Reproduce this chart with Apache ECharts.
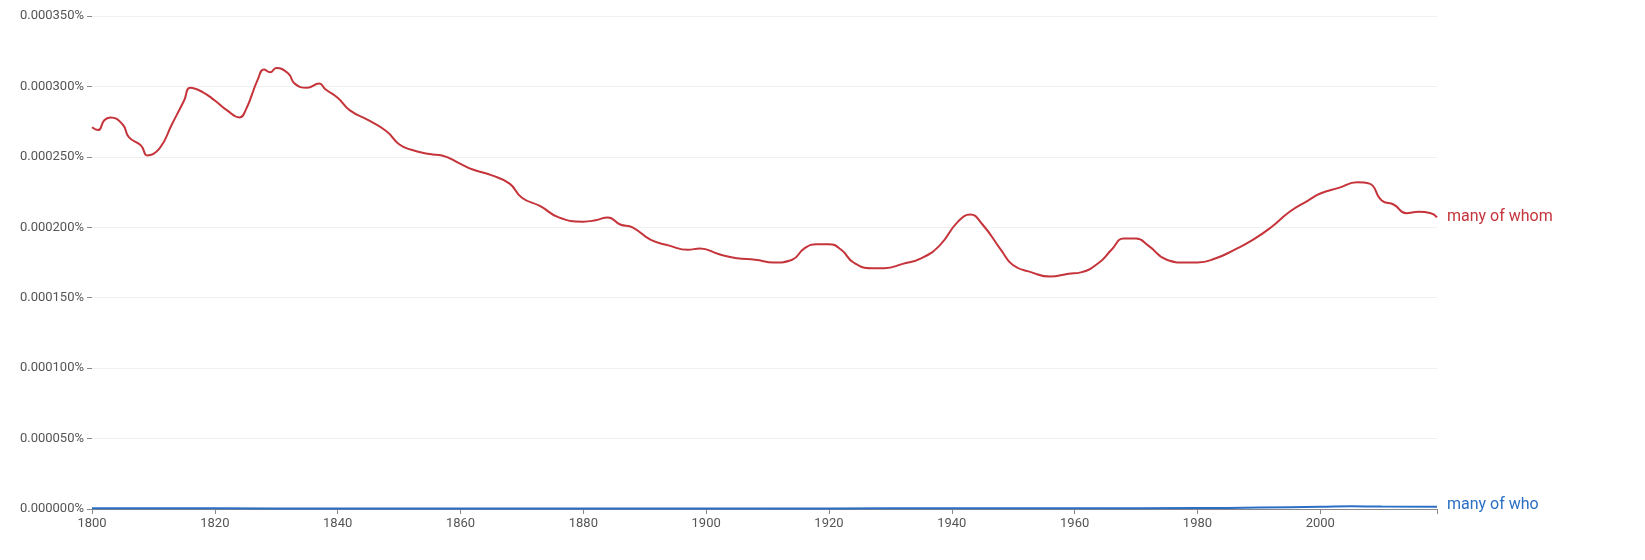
<!DOCTYPE html>
<html><head><meta charset="utf-8">
<script src="https://cdn.jsdelivr.net/npm/echarts@6/dist/echarts.min.js"></script>
<style>html,body{margin:0;background:#fff}#c{width:1645px;height:560px}</style>
</head><body><div id="c"></div>
<script>
const whomYears=[1800,1801,1802,1803,1805,1806,1808,1809,1811,1813,1815,1816,1818,1820,1822,1824,1825,1827,1828,1829,1830,1832,1833,1835,1837,1838,1840,1842,1845,1848,1850,1852,1855,1857,1860,1862,1865,1868,1870,1873,1876,1880,1882,1884,1886,1888,1891,1894,1897,1899,1902,1905,1908,1911,1914,1916,1918,1920,1922,1924,1927,1929,1932,1935,1938,1941,1943,1945,1948,1950,1953,1956,1959,1961,1964,1966,1968,1970,1972,1975,1978,1980,1983,1986,1989,1992,1995,1998,2000,2003,2006,2008,2010,2012,2014,2016,2018,2019];
const whomValues=[0.000271,0.000269,0.000276,0.000278,0.000273,0.000264,0.000258,0.000251,0.000256,0.000273,0.000290,0.000299,0.000296,0.000290,0.000283,0.000278,0.000283,0.000305,0.000312,0.000310,0.000313,0.000309,0.000302,0.000299,0.000302,0.000298,0.000292,0.000283,0.000276,0.000268,0.000259,0.000255,0.000252,0.000251,0.000245,0.000241,0.000237,0.000231,0.000221,0.000215,0.000207,0.000204,0.000205,0.000207,0.000202,0.000200,0.000191,0.000187,0.000184,0.000185,0.000181,0.000178,0.000177,0.000175,0.000177,0.000185,0.000188,0.000188,0.000184,0.000175,0.000171,0.000171,0.000174,0.000178,0.000187,0.000204,0.000209,0.000202,0.000184,0.000173,0.000168,0.000165,0.000167,0.000168,0.000175,0.000184,0.000192,0.000192,0.000187,0.000177,0.000175,0.000175,0.000178,0.000184,0.000191,0.000200,0.000211,0.000219,0.000224,0.000228,0.000232,0.000231,0.000219,0.000216,0.000210,0.000211,0.000210,0.000207];
const whoYears=[1800,1820,1840,1860,1880,1900,1920,1940,1960,1980,1990,2000,2005,2010,2019];
const whoValues=[0.0000006,0.0000005,0.0000004,0.0000004,0.0000004,0.0000004,0.0000004,0.0000005,0.0000005,0.0000007,0.0000010,0.0000016,0.0000020,0.0000017,0.0000016];
const zip=(a,b)=>a.map((x,i)=>[x,b[i]]);
const red='#c5343a', blue='#2a6fc3';
const chart=echarts.init(document.getElementById('c'));
chart.setOption({
  animation:false,
  grid:{left:92,right:208,top:16,bottom:51,containLabel:false},
  xAxis:{type:'value',min:1800,max:2019,interval:20,
    axisLine:{lineStyle:{color:'#888'}},axisTick:{length:5,lineStyle:{color:'#888'}},
    axisLabel:{color:'#555',fontSize:13,fontFamily:'Roboto',formatter:v=>v%20===0?v:''},splitLine:{show:false}},
  yAxis:{type:'value',min:0,max:0.00035,interval:0.00005,
    axisLine:{show:false},axisTick:{show:true,length:5,lineStyle:{color:'#888'}},
    axisLabel:{color:'#555',fontSize:13,fontFamily:'Roboto',formatter:v=>v.toFixed(6)+'%'},
    splitLine:{lineStyle:{color:'#f0f0f0'}}},
  series:[
    {type:'line',data:zip(whomYears,whomValues),smooth:0.5,symbol:'none',lineStyle:{color:red,width:2},
     endLabel:{show:true,formatter:'many of whom',color:red,fontSize:16,fontFamily:'Roboto',offset:[2,0]}},
    {type:'line',data:zip(whoYears,whoValues),smooth:true,symbol:'none',lineStyle:{color:blue,width:2},
     endLabel:{show:true,formatter:'many of who',color:blue,fontSize:16,fontFamily:'Roboto',offset:[2,-2]}}
  ]
});
</script></body></html>
